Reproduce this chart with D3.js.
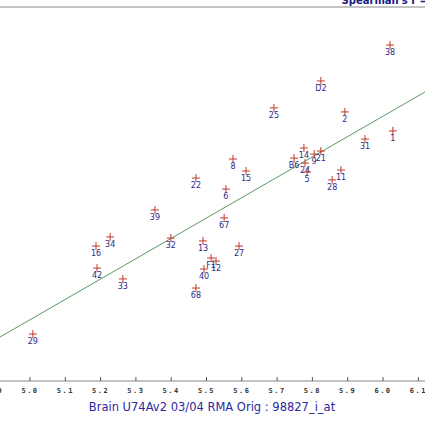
<!DOCTYPE html>
<html><head><meta charset="utf-8">
<script src="https://cdn.jsdelivr.net/npm/d3@7"></script>
<style>body{margin:0;background:#fff}</style>
</head><body><div id="chart"></div>
<script>
const labels = ['38','D2','25','2','1','31','14','9','21','B6','24','5','11','28','8','15','22','6','39','34','16','42','33','32','67','13','27','F1','12','40','68','29']
const xs = [6.020,5.824,5.691,5.892,6.028,5.949,5.776,5.805,5.824,5.748,5.779,5.785,5.881,5.856,5.575,5.612,5.470,5.555,5.354,5.227,5.187,5.190,5.263,5.399,5.550,5.490,5.592,5.513,5.527,5.493,5.470,5.008]
const ys = [6.263,6.074,5.932,5.911,5.811,5.768,5.721,5.689,5.705,5.668,5.642,5.595,5.605,5.553,5.663,5.600,5.563,5.505,5.395,5.253,5.205,5.089,5.032,5.247,5.353,5.232,5.205,5.142,5.126,5.084,4.984,4.742]
const fitX = [4.915, 6.119]
const fitY = [4.726, 6.016]
const tickVals = [4.9,5.0,5.1,5.2,5.3,5.4,5.5,5.6,5.7,5.8,5.9,6.0,6.1]

const W = 425, H = 425
const x = d3.scaleLinear().domain([5.0, 6.0]).range([30, 383])
const y = d3.scaleLinear().domain([4.5, 6.5]).range([380, 0])

const svg = d3.select('#chart').append('svg').attr('width', W).attr('height', H)

// top rule and header text
svg.append('line').attr('x1', 0).attr('x2', W).attr('y1', 7).attr('y2', 7)
  .attr('stroke', '#888').attr('stroke-width', 1)
svg.append('text').attr('x', 428).attr('y', 4).attr('text-anchor', 'end')
  .attr('font-family', 'DejaVu Sans').attr('font-weight', 'bold').attr('font-size', 10)
  .attr('fill', '#1a1a80').text("Spearman's r =")

// regression line
svg.append('line')
  .attr('x1', x(fitX[0])).attr('y1', y(fitY[0]))
  .attr('x2', x(fitX[1])).attr('y2', y(fitY[1]))
  .attr('stroke', '#2e7d32').attr('stroke-width', 0.8)

// points
const pts = svg.selectAll('g.pt').data(labels).enter().append('g')
  .attr('transform', (d, i) => `translate(${x(xs[i])},${y(ys[i])})`)
pts.append('path').attr('d', 'M-4,0H4M0,-4V4').attr('stroke', '#c0392b').attr('stroke-width', 1)
pts.append('text').attr('y', 10).attr('text-anchor', 'middle')
  .attr('font-family', 'DejaVu Sans').attr('font-size', 8).attr('fill', '#2a2a8a')
  .text(d => d)

// x axis
const ax = svg.append('g').attr('transform', 'translate(0,381)')
ax.append('line').attr('x1', 0).attr('x2', W).attr('stroke', '#888')
ax.selectAll('line.t').data(tickVals).enter().append('line')
  .attr('x1', d => x(d)).attr('x2', d => x(d)).attr('y1', -4).attr('y2', 0).attr('stroke', '#555')
ax.selectAll('text').data(tickVals).enter().append('text')
  .attr('x', d => x(d)).attr('y', 12).attr('text-anchor', 'middle')
  .attr('font-family', 'DejaVu Sans Mono').attr('font-weight', 'bold').attr('font-size', 7)
  .attr('fill', '#333').attr('letter-spacing', 1.5)
  .text(d => d3.format('.1f')(d))

svg.append('text').attr('x', 212).attr('y', 411).attr('text-anchor', 'middle')
  .attr('font-family', 'DejaVu Sans').attr('font-size', 11.5).attr('fill', '#2a2aa0')
  .text('Brain U74Av2 03/04 RMA Orig : 98827_i_at')
</script></body></html>
